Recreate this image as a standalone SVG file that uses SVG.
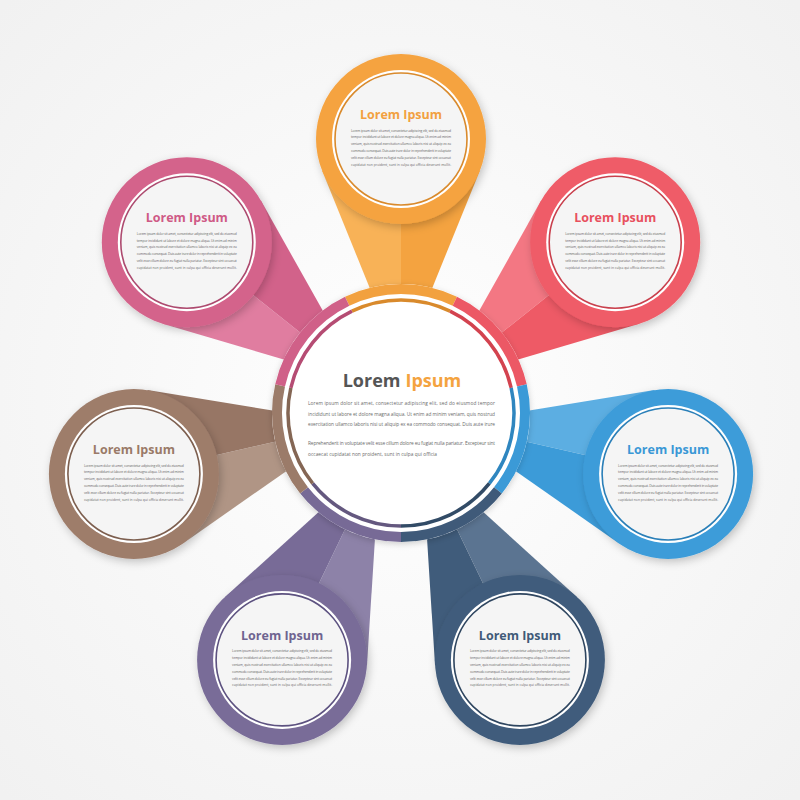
<svg xmlns="http://www.w3.org/2000/svg" width="800" height="800" viewBox="0 0 800 800">
<defs>
<radialGradient id="bg" cx="50%" cy="50%" r="70%">
<stop offset="0" stop-color="#ffffff"/>
<stop offset="1" stop-color="#f1f1f1"/>
</radialGradient>
<filter id="sh" x="-30%" y="-30%" width="160%" height="160%">
<feDropShadow dx="2" dy="3" stdDeviation="4" flood-color="#000" flood-opacity="0.22"/>
</filter>
<filter id="sh2" x="-30%" y="-30%" width="160%" height="160%">
<feDropShadow dx="0" dy="2" stdDeviation="3" flood-color="#000" flood-opacity="0.18"/>
</filter>
<path id="band" d="M -55.97,-116.23 A 129 129 0 0 1 55.97,-116.23 L 51.63,-107.22 A 119 119 0 0 0 -51.63,-107.22 Z"/>
<path id="line" d="M -49.03,-101.81 A 113 113 0 0 1 49.03,-101.81"/>
<polygon id="stemL" points="0,-48 -78.75,-242 0,-274"/>
<polygon id="stemR" points="0,-48 78.75,-242 0,-274"/>
</defs>
<style>
.t{font-family:"Open Sans","Liberation Sans",sans-serif}
.ttl{font-family:"Open Sans","Liberation Sans",sans-serif;font-weight:700;font-size:12.5px;text-anchor:middle}
.bd{font-family:"Open Sans","Liberation Sans",sans-serif;font-size:3.3px;fill:#666}
.cb{font-family:"Open Sans","Liberation Sans",sans-serif;font-size:4.8px;fill:#6a6a6a}
.inner{fill:#ffffff}
.core{fill:#f5f5f5;stroke-width:1.6}
.ln{fill:none;stroke-width:3.5}
</style>
<rect width="800" height="800" fill="url(#bg)"/>

<g id="connectors">
<g transform="translate(401,413) rotate(0)"><use href="#stemL" fill="#f8b257"/><use href="#stemR" fill="#f4a340"/></g>
<g transform="translate(401,413) rotate(51.43)"><use href="#stemL" fill="#f37783"/><use href="#stemR" fill="#ee5a66"/></g>
<g transform="translate(401,413) rotate(102.86)"><use href="#stemL" fill="#5caee2"/><use href="#stemR" fill="#3c9bd8"/></g>
<g transform="translate(401,413) rotate(154.29)"><use href="#stemL" fill="#5b7491"/><use href="#stemR" fill="#405c7b"/></g>
<g transform="translate(401,413) rotate(205.71)"><use href="#stemL" fill="#8d82a8"/><use href="#stemR" fill="#786b97"/></g>
<g transform="translate(401,413) rotate(257.14)"><use href="#stemL" fill="#b09585"/><use href="#stemR" fill="#977665"/></g>
<g transform="translate(401,413) rotate(308.57)"><use href="#stemL" fill="#e07da0"/><use href="#stemR" fill="#d2628a"/></g>
</g>

<g id="center">
<circle cx="401" cy="413" r="129" fill="#ffffff" filter="url(#sh2)"/>
<g transform="translate(401,413)">
<use href="#band" fill="#f2a13f" transform="rotate(0)"/>
<use href="#band" fill="#ec5865" transform="rotate(51.43)"/>
<use href="#band" fill="#3b9ad7" transform="rotate(102.86)"/>
<use href="#band" fill="#3f5a79" transform="rotate(154.29)"/>
<use href="#band" fill="#776a96" transform="rotate(205.71)"/>
<use href="#band" fill="#9b7b69" transform="rotate(257.14)"/>
<use href="#band" fill="#d06088" transform="rotate(308.57)"/>
<use href="#line" class="ln" stroke="#d98a2c" transform="rotate(0)"/>
<use href="#line" class="ln" stroke="#d3434f" transform="rotate(51.43)"/>
<use href="#line" class="ln" stroke="#2f86bf" transform="rotate(102.86)"/>
<use href="#line" class="ln" stroke="#324b66" transform="rotate(154.29)"/>
<use href="#line" class="ln" stroke="#64587f" transform="rotate(205.71)"/>
<use href="#line" class="ln" stroke="#846654" transform="rotate(257.14)"/>
<use href="#line" class="ln" stroke="#b54c73" transform="rotate(308.57)"/>
</g>
<text class="t" x="402" y="387" text-anchor="middle" font-size="18" font-weight="700"><tspan fill="#555555">Lorem</tspan><tspan fill="#f4a340" dx="5">Ipsum</tspan></text>
<text class="cb" x="308" y="405" textLength="187" lengthAdjust="spacing">Lorem ipsum dolor sit amet, consectetur adipiscing elit, sed do eiusmod tempor</text>
<text class="cb" x="308" y="415.5" textLength="187" lengthAdjust="spacing">incididunt ut labore et dolore magna aliqua. Ut enim ad minim veniam, quis nostrud</text>
<text class="cb" x="308" y="426" textLength="187" lengthAdjust="spacing">exercitation ullamco laboris nisi ut aliquip ex ea commodo consequat. Duis aute irure</text>
<text class="cb" x="308" y="445" textLength="187" lengthAdjust="spacing">Reprehenderit in voluptate velit esse cillum dolore eu fugiat nulla pariatur. Excepteur sint</text>
<text class="cb" x="308" y="455.5" textLength="129" lengthAdjust="spacing">occaecat cupidatat non proident, sunt in culpa qui officia</text>
</g>

<g id="petal-orange" transform="translate(401,139)">
<circle r="85" fill="#f5a340" filter="url(#sh)"/>
<circle r="69" class="inner"/>
<circle r="66" class="core" stroke="#d98a2c"/>
<text class="ttl" y="-20" fill="#f2a040">Lorem Ipsum</text>
<text class="bd" x="-50" y="-7.5" textLength="100" lengthAdjust="spacing">Lorem ipsum dolor sit amet, consectetur adipiscing elit, sed do eiusmod</text>
<text class="bd" x="-50" y="-0.7" textLength="100" lengthAdjust="spacing">tempor incididunt ut labore et dolore magna aliqua. Ut enim ad minim</text>
<text class="bd" x="-50" y="6.1" textLength="100" lengthAdjust="spacing">veniam, quis nostrud exercitation ullamco laboris nisi ut aliquip ex ea</text>
<text class="bd" x="-50" y="12.9" textLength="100" lengthAdjust="spacing">commodo consequat. Duis aute irure dolor in reprehenderit in voluptate</text>
<text class="bd" x="-50" y="19.7" textLength="100" lengthAdjust="spacing">velit esse cillum dolore eu fugiat nulla pariatur. Excepteur sint occaecat</text>
<text class="bd" x="-50" y="26.5" textLength="100" lengthAdjust="spacing">cupidatat non proident, sunt in culpa qui officia deserunt mollit.</text>
</g>

<g id="petal-red" transform="translate(615.2,242.2)">
<circle r="85" fill="#ef5b67" filter="url(#sh)"/>
<circle r="69" class="inner"/>
<circle r="66" class="core" stroke="#c9404d"/>
<text class="ttl" y="-20" fill="#e8505e">Lorem Ipsum</text>
<text class="bd" x="-50" y="-7.5" textLength="100" lengthAdjust="spacing">Lorem ipsum dolor sit amet, consectetur adipiscing elit, sed do eiusmod</text>
<text class="bd" x="-50" y="-0.7" textLength="100" lengthAdjust="spacing">tempor incididunt ut labore et dolore magna aliqua. Ut enim ad minim</text>
<text class="bd" x="-50" y="6.1" textLength="100" lengthAdjust="spacing">veniam, quis nostrud exercitation ullamco laboris nisi ut aliquip ex ea</text>
<text class="bd" x="-50" y="12.9" textLength="100" lengthAdjust="spacing">commodo consequat. Duis aute irure dolor in reprehenderit in voluptate</text>
<text class="bd" x="-50" y="19.7" textLength="100" lengthAdjust="spacing">velit esse cillum dolore eu fugiat nulla pariatur. Excepteur sint occaecat</text>
<text class="bd" x="-50" y="26.5" textLength="100" lengthAdjust="spacing">cupidatat non proident, sunt in culpa qui officia deserunt mollit.</text>
</g>

<g id="petal-blue" transform="translate(668.1,474)">
<circle r="85" fill="#3d9cd9" filter="url(#sh)"/>
<circle r="69" class="inner"/>
<circle r="66" class="core" stroke="#2a7fb8"/>
<text class="ttl" y="-20" fill="#3a98d6">Lorem Ipsum</text>
<text class="bd" x="-50" y="-7.5" textLength="100" lengthAdjust="spacing">Lorem ipsum dolor sit amet, consectetur adipiscing elit, sed do eiusmod</text>
<text class="bd" x="-50" y="-0.7" textLength="100" lengthAdjust="spacing">tempor incididunt ut labore et dolore magna aliqua. Ut enim ad minim</text>
<text class="bd" x="-50" y="6.1" textLength="100" lengthAdjust="spacing">veniam, quis nostrud exercitation ullamco laboris nisi ut aliquip ex ea</text>
<text class="bd" x="-50" y="12.9" textLength="100" lengthAdjust="spacing">commodo consequat. Duis aute irure dolor in reprehenderit in voluptate</text>
<text class="bd" x="-50" y="19.7" textLength="100" lengthAdjust="spacing">velit esse cillum dolore eu fugiat nulla pariatur. Excepteur sint occaecat</text>
<text class="bd" x="-50" y="26.5" textLength="100" lengthAdjust="spacing">cupidatat non proident, sunt in culpa qui officia deserunt mollit.</text>
</g>

<g id="petal-navy" transform="translate(519.9,659.9)">
<circle r="85" fill="#405c7b" filter="url(#sh)"/>
<circle r="69" class="inner"/>
<circle r="66" class="core" stroke="#2f4660"/>
<text class="ttl" y="-20" fill="#3f5a78">Lorem Ipsum</text>
<text class="bd" x="-50" y="-7.5" textLength="100" lengthAdjust="spacing">Lorem ipsum dolor sit amet, consectetur adipiscing elit, sed do eiusmod</text>
<text class="bd" x="-50" y="-0.7" textLength="100" lengthAdjust="spacing">tempor incididunt ut labore et dolore magna aliqua. Ut enim ad minim</text>
<text class="bd" x="-50" y="6.1" textLength="100" lengthAdjust="spacing">veniam, quis nostrud exercitation ullamco laboris nisi ut aliquip ex ea</text>
<text class="bd" x="-50" y="12.9" textLength="100" lengthAdjust="spacing">commodo consequat. Duis aute irure dolor in reprehenderit in voluptate</text>
<text class="bd" x="-50" y="19.7" textLength="100" lengthAdjust="spacing">velit esse cillum dolore eu fugiat nulla pariatur. Excepteur sint occaecat</text>
<text class="bd" x="-50" y="26.5" textLength="100" lengthAdjust="spacing">cupidatat non proident, sunt in culpa qui officia deserunt mollit.</text>
</g>

<g id="petal-purple" transform="translate(282.1,659.9)">
<circle r="85" fill="#796c98" filter="url(#sh)"/>
<circle r="69" class="inner"/>
<circle r="66" class="core" stroke="#5d5280"/>
<text class="ttl" y="-20" fill="#6f6490">Lorem Ipsum</text>
<text class="bd" x="-50" y="-7.5" textLength="100" lengthAdjust="spacing">Lorem ipsum dolor sit amet, consectetur adipiscing elit, sed do eiusmod</text>
<text class="bd" x="-50" y="-0.7" textLength="100" lengthAdjust="spacing">tempor incididunt ut labore et dolore magna aliqua. Ut enim ad minim</text>
<text class="bd" x="-50" y="6.1" textLength="100" lengthAdjust="spacing">veniam, quis nostrud exercitation ullamco laboris nisi ut aliquip ex ea</text>
<text class="bd" x="-50" y="12.9" textLength="100" lengthAdjust="spacing">commodo consequat. Duis aute irure dolor in reprehenderit in voluptate</text>
<text class="bd" x="-50" y="19.7" textLength="100" lengthAdjust="spacing">velit esse cillum dolore eu fugiat nulla pariatur. Excepteur sint occaecat</text>
<text class="bd" x="-50" y="26.5" textLength="100" lengthAdjust="spacing">cupidatat non proident, sunt in culpa qui officia deserunt mollit.</text>
</g>

<g id="petal-brown" transform="translate(133.9,474)">
<circle r="85" fill="#9e7d6b" filter="url(#sh)"/>
<circle r="69" class="inner"/>
<circle r="66" class="core" stroke="#7d5f4f"/>
<text class="ttl" y="-20" fill="#9a7a68">Lorem Ipsum</text>
<text class="bd" x="-50" y="-7.5" textLength="100" lengthAdjust="spacing">Lorem ipsum dolor sit amet, consectetur adipiscing elit, sed do eiusmod</text>
<text class="bd" x="-50" y="-0.7" textLength="100" lengthAdjust="spacing">tempor incididunt ut labore et dolore magna aliqua. Ut enim ad minim</text>
<text class="bd" x="-50" y="6.1" textLength="100" lengthAdjust="spacing">veniam, quis nostrud exercitation ullamco laboris nisi ut aliquip ex ea</text>
<text class="bd" x="-50" y="12.9" textLength="100" lengthAdjust="spacing">commodo consequat. Duis aute irure dolor in reprehenderit in voluptate</text>
<text class="bd" x="-50" y="19.7" textLength="100" lengthAdjust="spacing">velit esse cillum dolore eu fugiat nulla pariatur. Excepteur sint occaecat</text>
<text class="bd" x="-50" y="26.5" textLength="100" lengthAdjust="spacing">cupidatat non proident, sunt in culpa qui officia deserunt mollit.</text>
</g>

<g id="petal-pink" transform="translate(186.8,242.2)">
<circle r="85" fill="#d4638b" filter="url(#sh)"/>
<circle r="69" class="inner"/>
<circle r="66" class="core" stroke="#ad4a6f"/>
<text class="ttl" y="-20" fill="#cf5a86">Lorem Ipsum</text>
<text class="bd" x="-50" y="-7.5" textLength="100" lengthAdjust="spacing">Lorem ipsum dolor sit amet, consectetur adipiscing elit, sed do eiusmod</text>
<text class="bd" x="-50" y="-0.7" textLength="100" lengthAdjust="spacing">tempor incididunt ut labore et dolore magna aliqua. Ut enim ad minim</text>
<text class="bd" x="-50" y="6.1" textLength="100" lengthAdjust="spacing">veniam, quis nostrud exercitation ullamco laboris nisi ut aliquip ex ea</text>
<text class="bd" x="-50" y="12.9" textLength="100" lengthAdjust="spacing">commodo consequat. Duis aute irure dolor in reprehenderit in voluptate</text>
<text class="bd" x="-50" y="19.7" textLength="100" lengthAdjust="spacing">velit esse cillum dolore eu fugiat nulla pariatur. Excepteur sint occaecat</text>
<text class="bd" x="-50" y="26.5" textLength="100" lengthAdjust="spacing">cupidatat non proident, sunt in culpa qui officia deserunt mollit.</text>
</g>
</svg>
